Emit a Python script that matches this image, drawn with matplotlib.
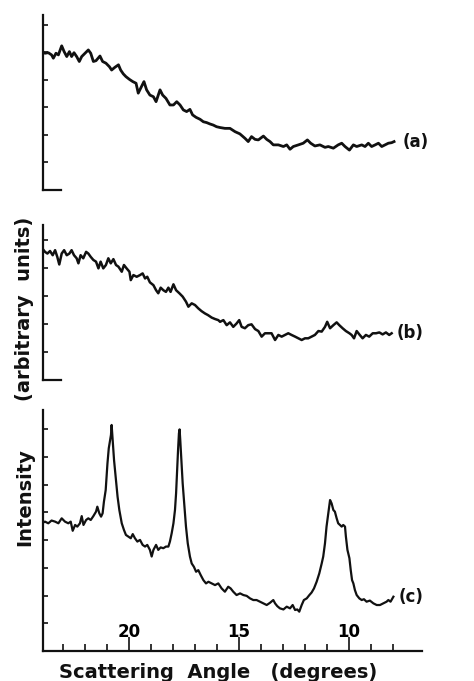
import matplotlib.pyplot as plt

# scattering angle (degrees) and intensity (arbitrary units, one unit per y tick)
angle_a = [23.97, 23.82, 23.67, 23.52, 23.44, 23.32, 23.21, 23.06, 22.95, 22.83, 22.71, 22.61, 22.50, 22.38,
           22.26, 22.15, 22.00, 21.85, 21.74, 21.62, 21.50, 21.32, 21.20, 21.05, 20.89, 20.79, 20.64, 20.48,
           20.38, 20.26, 20.14, 19.98, 19.83, 19.68, 19.58, 19.42, 19.32, 19.20, 19.05, 18.89, 18.77, 18.59,
           18.47, 18.32, 18.14, 17.98, 17.83, 17.68, 17.53, 17.38, 17.23, 17.11, 16.95, 16.77, 16.62, 16.47,
           16.32, 16.17, 16.02, 15.86, 15.64, 15.41, 15.18, 14.96, 14.73, 14.58, 14.43, 14.27, 14.12, 13.89,
           13.74, 13.59, 13.44, 13.21, 12.98, 12.83, 12.68, 12.53, 12.30, 12.08, 11.89, 11.74, 11.55, 11.32,
           11.09, 10.94, 10.71, 10.49, 10.33, 10.18, 9.98, 9.80, 9.65, 9.42, 9.27, 9.12, 8.97, 8.81, 8.66,
           8.51, 8.36, 8.21, 8.06, 7.95]
inten_a = [5.03, 4.97, 4.99, 4.91, 4.79, 4.97, 4.91, 5.24, 5.03, 4.85, 5.03, 4.85, 4.99, 4.85,
           4.67, 4.85, 4.97, 5.09, 4.97, 4.67, 4.70, 4.87, 4.67, 4.61, 4.48, 4.36, 4.46, 4.55,
           4.36, 4.22, 4.12, 4.02, 3.94, 3.88, 3.52, 3.78, 3.94, 3.64, 3.45, 3.39, 3.21, 3.64,
           3.45, 3.33, 3.09, 3.09, 3.21, 3.09, 2.91, 2.85, 2.93, 2.73, 2.64, 2.57, 2.48, 2.45,
           2.40, 2.36, 2.30, 2.27, 2.24, 2.24, 2.12, 2.04, 1.88, 1.76, 1.94, 1.84, 1.82, 1.96,
           1.84, 1.76, 1.64, 1.64, 1.58, 1.64, 1.48, 1.58, 1.64, 1.70, 1.82, 1.70, 1.60, 1.64,
           1.55, 1.58, 1.52, 1.64, 1.70, 1.58, 1.45, 1.64, 1.58, 1.64, 1.58, 1.70, 1.58, 1.64, 1.70,
           1.58, 1.64, 1.70, 1.72, 1.76]

angle_b = [23.92, 23.82, 23.71, 23.59, 23.47, 23.36, 23.26, 23.17, 23.06, 22.95, 22.83, 22.71, 22.61, 22.50,
           22.38, 22.30, 22.20, 22.08, 21.95, 21.85, 21.74, 21.62, 21.50, 21.39, 21.29, 21.17, 21.05, 20.94,
           20.83, 20.71, 20.59, 20.48, 20.33, 20.23, 20.11, 19.98, 19.92, 19.80, 19.65, 19.50, 19.38, 19.27,
           19.17, 19.05, 18.89, 18.77, 18.67, 18.56, 18.44, 18.32, 18.21, 18.11, 17.98, 17.86, 17.71, 17.56,
           17.41, 17.30, 17.15, 17.00, 16.85, 16.70, 16.55, 16.41, 16.24, 16.09, 15.94, 15.86, 15.71, 15.56,
           15.41, 15.26, 15.11, 14.99, 14.88, 14.73, 14.58, 14.43, 14.27, 14.12, 13.97, 13.82, 13.67, 13.52,
           13.36, 13.21, 13.06, 12.91, 12.76, 12.61, 12.45, 12.30, 12.15, 12.00, 11.85, 11.70, 11.55, 11.39,
           11.24, 11.09, 10.99, 10.86, 10.71, 10.56, 10.44, 10.29, 10.14, 9.98, 9.88, 9.77, 9.65, 9.53,
           9.38, 9.23, 9.08, 8.92, 8.77, 8.62, 8.47, 8.32, 8.17, 8.06]
inten_b = [4.68, 4.58, 4.52, 4.61, 4.46, 4.64, 4.40, 4.13, 4.52, 4.64, 4.46, 4.52, 4.64, 4.46,
           4.35, 4.17, 4.46, 4.35, 4.58, 4.52, 4.40, 4.29, 4.23, 3.99, 4.23, 3.99, 4.11, 4.35,
           4.17, 4.32, 4.11, 4.05, 3.87, 4.11, 3.99, 3.87, 3.57, 3.75, 3.69, 3.75, 3.81, 3.63,
           3.69, 3.49, 3.39, 3.21, 3.10, 3.30, 3.21, 3.15, 3.30, 3.15, 3.42, 3.21, 3.10, 2.98,
           2.80, 2.62, 2.74, 2.68, 2.56, 2.46, 2.38, 2.32, 2.23, 2.18, 2.14, 2.08, 2.14, 1.96,
           2.06, 1.90, 2.02, 2.14, 1.90, 1.85, 1.96, 1.99, 1.82, 1.75, 1.55, 1.67, 1.67, 1.67,
           1.43, 1.61, 1.55, 1.61, 1.67, 1.61, 1.55, 1.49, 1.43, 1.49, 1.49, 1.55, 1.61, 1.75,
           1.73, 1.90, 2.08, 1.85, 1.96, 2.06, 1.96, 1.85, 1.75, 1.67, 1.61, 1.49, 1.75, 1.63,
           1.49, 1.61, 1.55, 1.67, 1.67, 1.70, 1.63, 1.70, 1.61, 1.67]

angle_c = [23.97, 23.82, 23.67, 23.52, 23.36, 23.21, 23.06, 22.91, 22.76, 22.65, 22.56, 22.45, 22.35, 22.23,
           22.15, 22.07, 21.95, 21.85, 21.74, 21.62, 21.50, 21.44, 21.35, 21.27, 21.20, 21.14, 21.06, 20.98,
           20.92, 20.86, 20.82, 20.79, 20.74, 20.68, 20.59, 20.52, 20.44, 20.33, 20.23, 20.14, 20.03, 19.92,
           19.83, 19.73, 19.62, 19.50, 19.38, 19.27, 19.17, 19.05, 18.97, 18.89, 18.77, 18.67, 18.56, 18.44,
           18.32, 18.21, 18.14, 18.06, 17.98, 17.91, 17.86, 17.82, 17.77, 17.73, 17.70, 17.67, 17.62, 17.56,
           17.48, 17.41, 17.33, 17.23, 17.15, 17.05, 16.95, 16.85, 16.74, 16.62, 16.50, 16.39, 16.24, 16.09,
           15.94, 15.79, 15.64, 15.49, 15.38, 15.26, 15.11, 14.95, 14.80, 14.65, 14.50, 14.35, 14.20, 14.05,
           13.89, 13.74, 13.59, 13.44, 13.36, 13.26, 13.14, 12.98, 12.83, 12.68, 12.56, 12.45, 12.35, 12.26,
           12.15, 12.05, 11.92, 11.80, 11.70, 11.59, 11.47, 11.35, 11.24, 11.17, 11.09, 11.02, 10.94, 10.86,
           10.79, 10.71, 10.64, 10.56, 10.49, 10.41, 10.33, 10.26, 10.18, 10.14, 10.07, 9.98, 9.92, 9.86,
           9.80, 9.73, 9.65, 9.53, 9.42, 9.32, 9.20, 9.05, 8.89, 8.74, 8.59, 8.44, 8.29, 8.21, 8.11, 7.98]
inten_c = [4.61, 4.67, 4.61, 4.71, 4.67, 4.61, 4.79, 4.67, 4.61, 4.67, 4.34, 4.55, 4.49, 4.61,
           4.87, 4.55, 4.73, 4.79, 4.73, 4.87, 5.03, 5.21, 4.97, 4.85, 4.97, 5.39, 5.81, 6.77,
           7.32, 7.62, 7.80, 8.16, 7.56, 6.89, 6.17, 5.57, 5.09, 4.61, 4.37, 4.19, 4.13, 4.07,
           4.22, 4.07, 3.95, 4.01, 3.83, 3.77, 3.83, 3.65, 3.41, 3.65, 3.83, 3.65, 3.74, 3.71,
           3.77, 3.77, 3.95, 4.25, 4.61, 5.09, 5.69, 6.41, 7.26, 7.86, 8.00, 7.62, 6.89, 6.05,
           5.21, 4.49, 3.89, 3.41, 3.16, 3.04, 2.86, 2.92, 2.74, 2.56, 2.44, 2.50, 2.44, 2.38,
           2.44, 2.26, 2.14, 2.32, 2.26, 2.14, 2.02, 2.08, 2.02, 1.99, 1.90, 1.84, 1.84, 1.78,
           1.72, 1.66, 1.74, 1.84, 1.72, 1.62, 1.54, 1.50, 1.60, 1.54, 1.66, 1.48, 1.50, 1.42,
           1.66, 1.84, 1.90, 2.02, 2.11, 2.26, 2.50, 2.80, 3.16, 3.41, 3.89, 4.49, 4.97, 5.45,
           5.33, 5.09, 5.03, 4.79, 4.61, 4.55, 4.49, 4.55, 4.49, 4.13, 3.65, 3.35, 2.92, 2.56,
           2.44, 2.20, 2.02, 1.90, 1.84, 1.87, 1.78, 1.82, 1.72, 1.66, 1.66, 1.72, 1.78, 1.84, 1.78, 1.96]

curve_labels = ['(a)', '(b)', '(c)']
major_ticks = [20, 15, 10]
minor_ticks = [23, 22, 21, 19, 18, 17, 16, 14, 13, 12, 11, 9, 8]

ink = '#111111'
fig = plt.figure(figsize=(4.74, 6.81), dpi=100)
W_PX, H_PX = 474.0, 681.0
left, width = 43 / W_PX, 379 / W_PX
ax_a = fig.add_axes([left, (H_PX - 190) / H_PX, width, 175 / H_PX])
ax_b = fig.add_axes([left, (H_PX - 380) / H_PX, width, 155 / H_PX])
ax_c = fig.add_axes([left, (H_PX - 651) / H_PX, width, 241 / H_PX])

x_lo, x_hi = 23.91, 6.68
panels = [(ax_a, angle_a, inten_a, 6.36, range(0, 7), 2.0, 6.5),
          (ax_b, angle_b, inten_b, 5.54, range(0, 6), 1.8, 3.5),
          (ax_c, angle_c, inten_c, 8.70, range(1, 9), 1.6, 3.5)]

for i, (ax, xs, ys, ytop, yt, lw, off) in enumerate(panels):
    ax.plot(xs, ys, color=ink, lw=lw, solid_joinstyle='round')
    ax.set_xlim(x_lo, x_hi)
    ax.set_ylim(0, ytop)
    ax.set_yticks(list(yt))
    ax.set_yticklabels([])
    ax.tick_params(axis='y', direction='in', length=3.8, width=1.2, color=ink)
    for s in ['top', 'right']:
        ax.spines[s].set_visible(False)
    for s in ['left', 'bottom']:
        ax.spines[s].set_linewidth(1.6)
        ax.spines[s].set_color(ink)
    ax.patch.set_alpha(0)
    ax.annotate(curve_labels[i], xy=(xs[-1], ys[-1]), xytext=(off, 0), textcoords='offset points',
                ha='left', va='center', fontsize=12, fontweight='bold', color=ink)

for ax in [ax_a, ax_b]:
    ax.spines['bottom'].set_bounds(x_lo - 0.82, x_lo)
    ax.set_xticks([])

ax_c.set_xticks(major_ticks)
ax_c.set_xticklabels([str(t) for t in major_ticks])
ax_c.set_xticks(minor_ticks, minor=True)
ax_c.tick_params(axis='x', which='major', direction='in', length=10, width=1.2, color=ink,
                 pad=-20.5, labelsize=12)
ax_c.tick_params(axis='x', which='minor', direction='in', length=5, width=1.2, color=ink)
for lab in ax_c.get_xticklabels():
    lab.set_fontweight('bold')

fig.text(25 / W_PX, (H_PX - 497) / H_PX, 'Intensity', rotation=90, ha='center', va='center',
         fontsize=14, fontweight='bold', color=ink)
fig.text(25 / W_PX, (H_PX - 309) / H_PX, '(arbitrary  units)', rotation=90, ha='center', va='center',
         fontsize=14, fontweight='bold', color=ink)
fig.text(218 / W_PX, (H_PX - 672) / H_PX, 'Scattering  Angle   (degrees)', ha='center', va='center',
         fontsize=14, fontweight='bold', color=ink)

fig.savefig('out.png', dpi=100)
